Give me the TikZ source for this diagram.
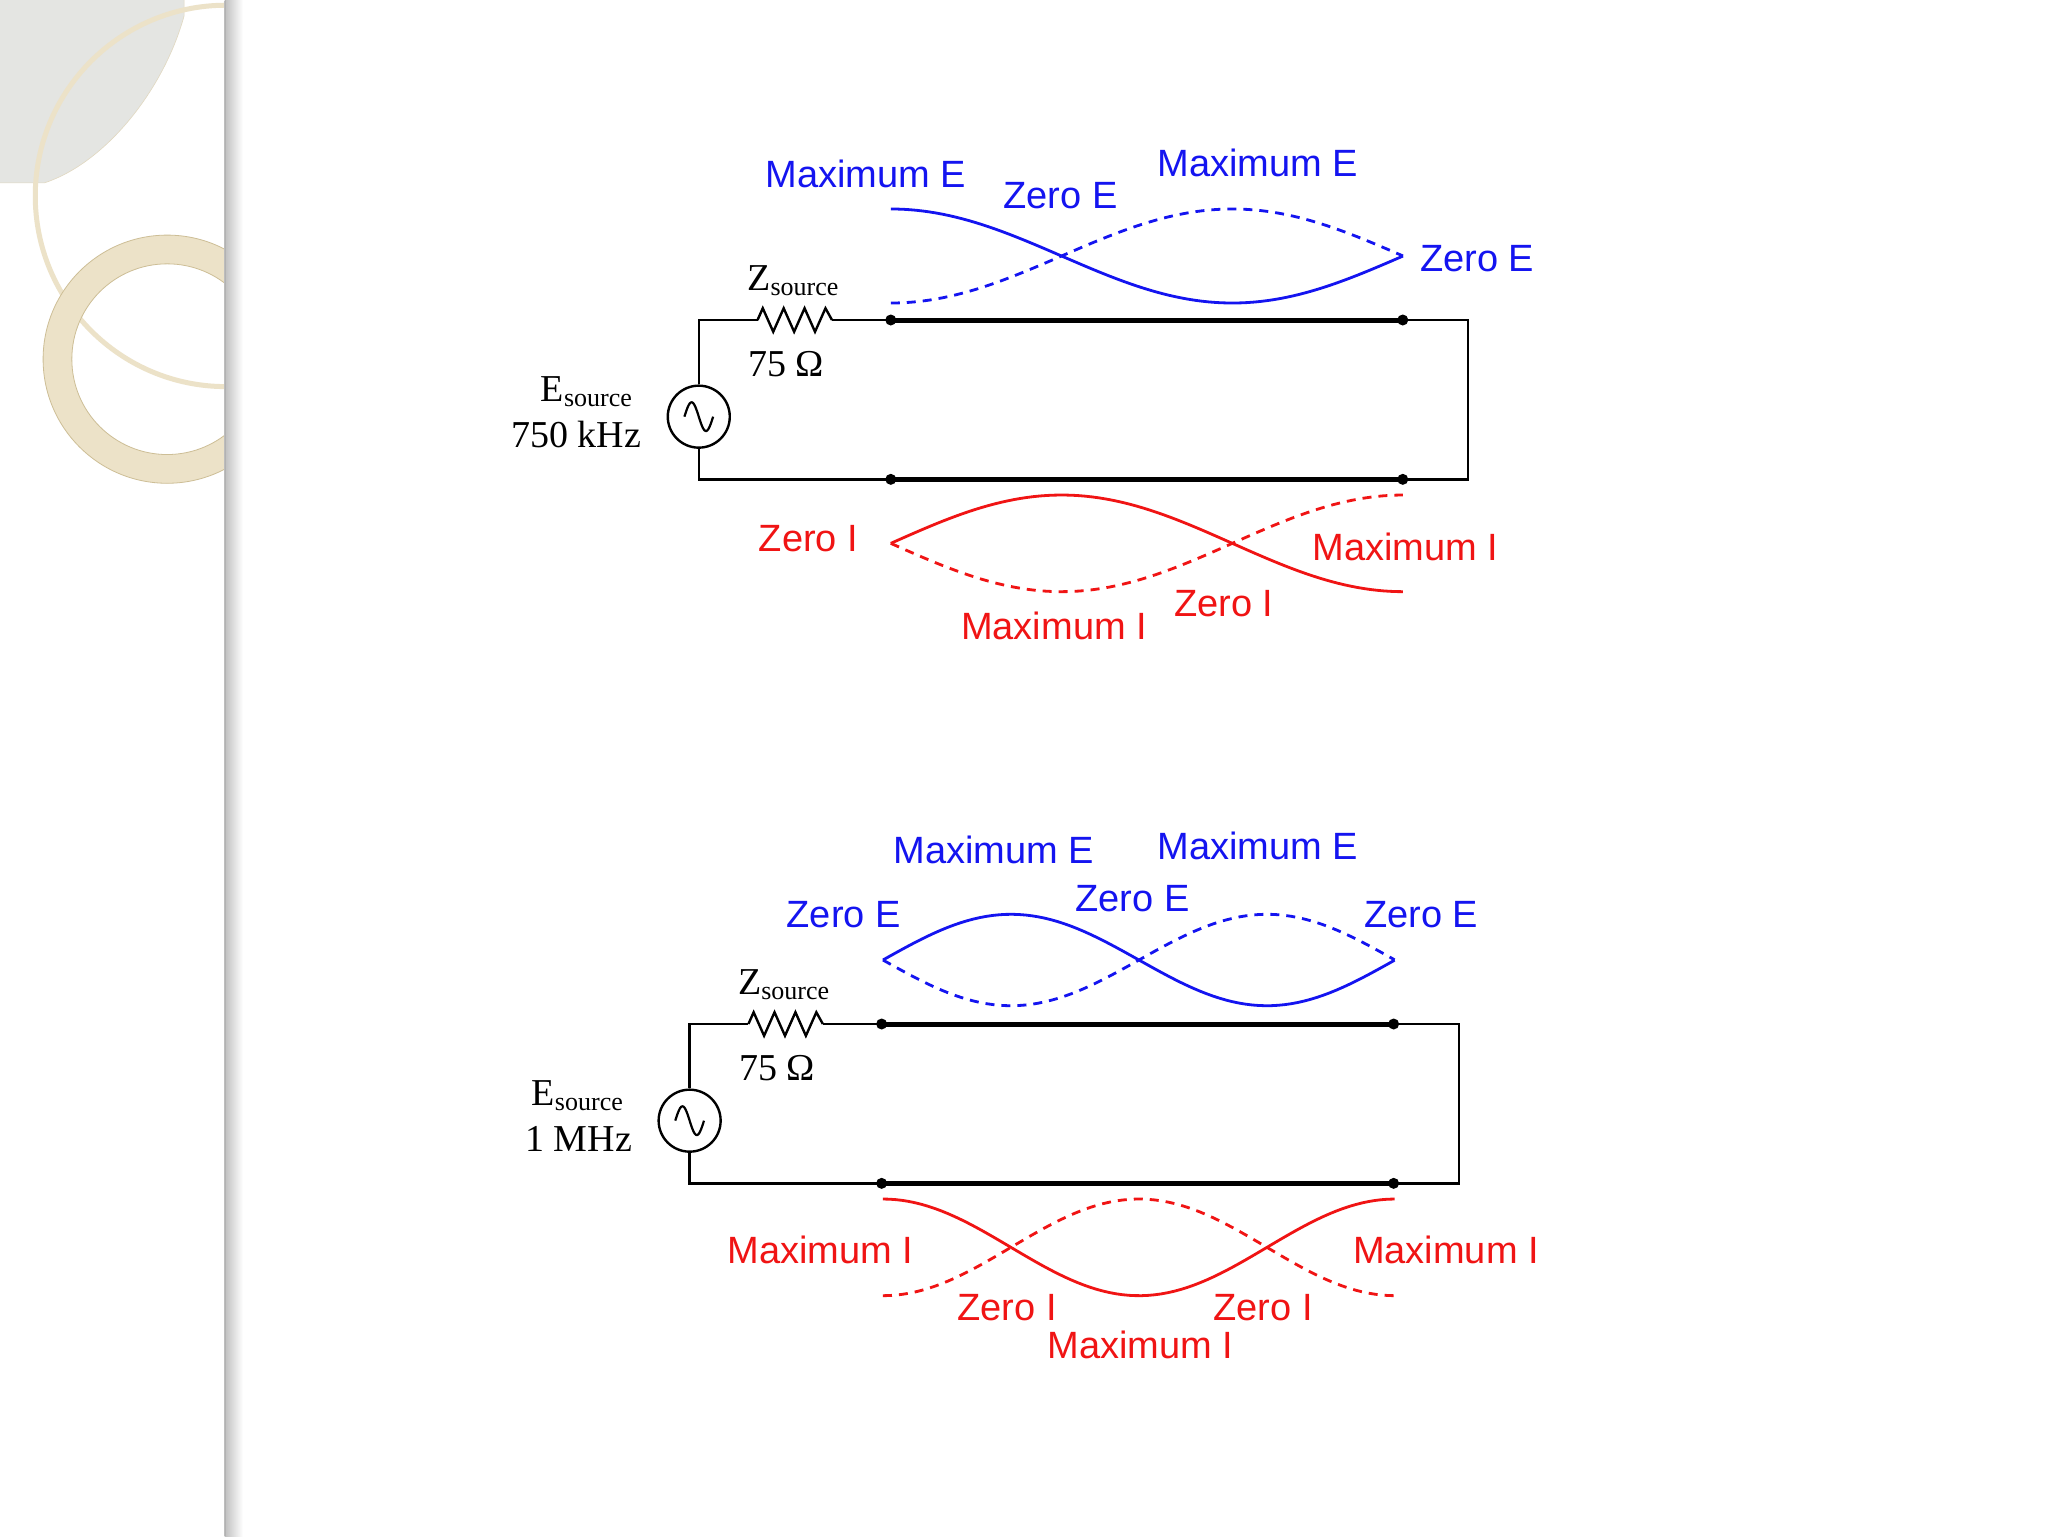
\documentclass[tikz,border=0pt]{standalone}
\usepackage{fontspec}
\setmainfont{Liberation Serif}
\newfontfamily\lab{Liberation Sans}
\definecolor{beige}{RGB}{236,226,200}
\definecolor{beigeedge}{RGB}{205,190,150}
\definecolor{pgrey}{RGB}{228,229,226}
\definecolor{eblue}{RGB}{20,20,240}
\definecolor{ired}{RGB}{240,20,20}
\tikzset{
  wire/.style={line width=2.4pt,black},
  tline/.style={line width=5pt,black},
  bwave/.style={line width=2.8pt,eblue},
  rwave/.style={line width=2.8pt,ired},
  dwave/.style={dash pattern=on 9pt off 7pt},
  blab/.style={font=\lab\fontsize{38}{42}\selectfont,text=eblue,inner sep=0pt},
  rlab/.style={font=\lab\fontsize{38}{42}\selectfont,text=ired,inner sep=0pt},
  klab/.style={font=\fontsize{38}{42}\selectfont,inner sep=0pt},
  dotc/.style={circle,fill=black,inner sep=0pt,minimum size=11pt}
}
\newcommand{\circuit}[4]{% #1 prefix, #2 xshift, #3 yshift, #4 frequency
\begin{scope}[shift={(#2,#3)}]
  \coordinate (#1tl) at (535,245);
  \coordinate (#1bl) at (535,367);
  \coordinate (#1r1) at (580,245);
  \coordinate (#1r2) at (637,245);
  \node[dotc] (#1a) at (682,245) {};
  \node[dotc] (#1b) at (1074,245) {};
  \node[dotc] (#1c) at (682,367) {};
  \node[dotc] (#1d) at (1074,367) {};
  \coordinate (#1tr) at (1124,245);
  \coordinate (#1br) at (1124,367);
  \node[circle,draw,line width=2.4pt,minimum size=62pt,inner sep=0pt] (#1src) at (535,319) {};
  \draw[wire] (#1src.north) -- (#1tl) -- (#1r1);
  \draw[wire] (#1r1) -- ++(4,-9) -- ++(8,18) -- ++(8,-18) -- ++(8,18) -- ++(8,-18) -- ++(8,18) -- ++(8,-18) -- (#1r2);
  \draw[wire] (#1r2) -- (#1a.center);
  \draw[tline] (#1a.center) -- (#1b.center);
  \draw[wire] (#1b.center) -- (#1tr) -- (#1br) -- (#1d.center);
  \draw[tline] (#1d.center) -- (#1c.center);
  \draw[wire] (#1c.center) -- (#1bl) -- (#1src.south);
  \draw[line width=2.2pt] plot[domain=0:1,samples=40] ({524+22*\x},{319-11*sin(360*\x)});
  \node[klab] (#1zs) at (607,215) {Z\raisebox{-0.25ex}{\fontsize{26}{28}\selectfont source}};
  \node[klab] (#1ohm) at (602,279) {75 Ω};
  \node[klab] (#1es) at (449,300) {E\raisebox{-0.25ex}{\fontsize{26}{28}\selectfont source}};
  \node[klab,anchor=east] (#1fr) at (491,333) {#4};
\end{scope}}
\begin{document}
\begin{tikzpicture}[x=1.3061pt,y=-1.3061pt]
\useasboundingbox (0,0) rectangle (1568,1176);
\fill[white] (0,0) rectangle (1568,1176);
% left decoration
\begin{scope}
  \clip (0,0) rectangle (174,1176);
  \fill[pgrey] (0,0) -- (141,0) -- (141,12) .. controls (125,70) and (80,125) .. (34,140) -- (0,140) -- cycle;
  \draw[beigeedge!60,line width=0.6pt] (141,0) -- (141,12) .. controls (125,70) and (80,125) .. (34,140) -- (0,140);
  \draw[beige,line width=5pt] (173,150) circle[radius=146];
  \fill[beige,even odd rule] (128,275) circle[radius=95] (128,275) circle[radius=73];
  \draw[beigeedge,line width=0.8pt] (128,275) circle[radius=95] (128,275) circle[radius=73];
\end{scope}
\shade[left color=black!25,right color=white] (172,0) rectangle (186,1176);
\draw[black!30,line width=1pt] (173,0) -- (173,1176);
% circuits
\circuit{t}{0}{0}{750 kHz}
\circuit{u}{-7}{539}{1 MHz}
% top waves
\draw[bwave] plot[domain=0:0.75,samples=80] ({682+523*\x},{196-36*cos(360*\x)});
\draw[bwave,dwave] plot[domain=0:0.75,samples=80] ({682+523*\x},{196+36*cos(360*\x)});
\draw[rwave] plot[domain=0:0.75,samples=80] ({682+523*\x},{416-37*sin(360*\x)});
\draw[rwave,dwave] plot[domain=0:0.75,samples=80] ({682+523*\x},{416+37*sin(360*\x)});
% bottom waves
\draw[bwave] plot[domain=0:1,samples=80] ({676+392*\x},{735-35*sin(360*\x)});
\draw[bwave,dwave] plot[domain=0:1,samples=80] ({676+392*\x},{735+35*sin(360*\x)});
\draw[rwave] plot[domain=0:1,samples=80] ({676+392*\x},{955-37*cos(360*\x)});
\draw[rwave,dwave] plot[domain=0:1,samples=80] ({676+392*\x},{955+37*cos(360*\x)});
% top labels
\node[blab] (l1) at (663,133) {Maximum E};
\node[blab] (l2) at (812,150) {Zero E};
\node[blab] (l3) at (963,125) {Maximum E};
\node[blab] (l4) at (1131,198) {Zero E};
\node[rlab] (l5) at (619,412) {Zero I};
\node[rlab] (l6) at (1076,419) {Maximum I};
\node[rlab] (l7) at (937,462) {Zero I};
\node[rlab] (l8) at (807,479) {Maximum I};
% bottom labels
\node[blab] (m1) at (761,651) {Maximum E};
\node[blab] (m2) at (963,648) {Maximum E};
\node[blab] (m3) at (646,700) {Zero E};
\node[blab] (m4) at (867,688) {Zero E};
\node[blab] (m5) at (1088,700) {Zero E};
\node[rlab] (m6) at (628,957) {Maximum I};
\node[rlab] (m7) at (1107,957) {Maximum I};
\node[rlab] (m8) at (771,1001) {Zero I};
\node[rlab] (m9) at (967,1001) {Zero I};
\node[rlab] (m10) at (873,1030) {Maximum I};
\end{tikzpicture}
\end{document}
